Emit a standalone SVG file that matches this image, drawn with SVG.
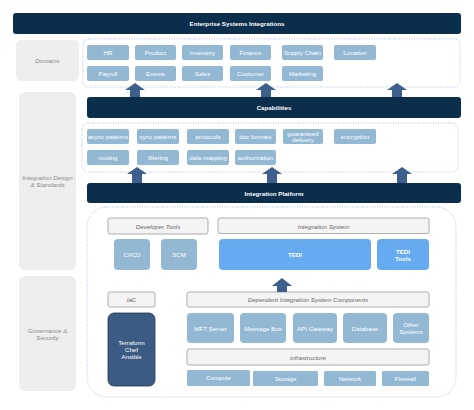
<svg xmlns="http://www.w3.org/2000/svg" width="474" height="410" viewBox="0 0 474 410">
<style>
text{font-family:"Liberation Sans",Arial,sans-serif;font-size:6.2px;text-anchor:middle;dominant-baseline:central}
.bar{fill:#0a2e4b}
.bart{fill:#fff;font-weight:bold}
.lab{fill:#eeeeee}
.labt{fill:#8a8a8a;font-style:italic}
.cont{fill:#fff;stroke:#9aaedb;stroke-width:0.8;stroke-dasharray:1 1.5}
.box{fill:#93b8d4}
.boxt{fill:#fff}
.sub{fill:#f4f4f4;stroke:#9a9a9a;stroke-width:0.8}
.subt{fill:#666;font-style:italic}
.tedi{fill:#66aaf0}
.arr{fill:#3d5f8c}
</style>
<rect width="474" height="410" fill="#fff"/>

<g id="title"><rect class="bar" x="13" y="13" width="448" height="21" rx="3"/><text class="bart" x="237" y="23.5">Enterprise Systems Integrations</text></g>

<g id="domains-label"><rect class="lab" x="16" y="40" width="63" height="41" rx="5"/><text class="labt" x="47.5" y="60.5">Domains</text></g>
<g id="domains"><rect class="cont" x="83" y="39" width="377" height="48" rx="6"/></g>
<g id="d-hr"><rect class="box" x="87" y="45" width="42" height="15" rx="2"/><text class="boxt" x="108" y="52.5">HR</text></g>
<g id="d-product"><rect class="box" x="135" y="45" width="41" height="15" rx="2"/><text class="boxt" x="155.5" y="52.5">Product</text></g>
<g id="d-inventory"><rect class="box" x="182" y="45" width="41" height="15" rx="2"/><text class="boxt" x="202.5" y="52.5">Inventory</text></g>
<g id="d-finance"><rect class="box" x="230" y="45" width="41" height="15" rx="2"/><text class="boxt" x="250.5" y="52.5">Finance</text></g>
<g id="d-supply"><rect class="box" x="282" y="45" width="41" height="15" rx="2"/><text class="boxt" x="302.5" y="52.5">Supply Chain</text></g>
<g id="d-location"><rect class="box" x="334" y="45" width="42" height="15" rx="2"/><text class="boxt" x="355" y="52.5">Location</text></g>
<g id="d-payroll"><rect class="box" x="87" y="66" width="42" height="15" rx="2"/><text class="boxt" x="108" y="73.5">Payroll</text></g>
<g id="d-events"><rect class="box" x="135" y="66" width="41" height="15" rx="2"/><text class="boxt" x="155.5" y="73.5">Events</text></g>
<g id="d-sales"><rect class="box" x="182" y="66" width="41" height="15" rx="2"/><text class="boxt" x="202.5" y="73.5">Sales</text></g>
<g id="d-customer"><rect class="box" x="230" y="66" width="41" height="15" rx="2"/><text class="boxt" x="250.5" y="73.5">Customer</text></g>
<g id="d-marketing"><rect class="box" x="282" y="66" width="41" height="15" rx="2"/><text class="boxt" x="302.5" y="73.5">Marketing</text></g>

<g id="capabilities"><rect class="bar" x="87" y="97" width="374" height="21" rx="3"/><text class="bart" x="274" y="107.5">Capabilities</text></g>

<g id="ids-label"><rect class="lab" x="19" y="92" width="57" height="178" rx="6"/><text class="labt" x="47.5" y="177">Integration Design</text><text class="labt" x="47.5" y="184">&amp; Standards</text></g>
<g id="cap-container"><rect class="cont" x="82" y="123" width="376" height="49" rx="6"/></g>
<g id="c-async"><rect class="box" x="87" y="129" width="42" height="15" rx="2"/><text class="boxt" x="108" y="136.5">async patterns</text></g>
<g id="c-sync"><rect class="box" x="137" y="129" width="42" height="15" rx="2"/><text class="boxt" x="158" y="136.5">sync patterns</text></g>
<g id="c-protocols"><rect class="box" x="187" y="129" width="42" height="15" rx="2"/><text class="boxt" x="208" y="136.5">protocols</text></g>
<g id="c-doc"><rect class="box" x="235" y="129" width="41" height="15" rx="2"/><text class="boxt" x="255.5" y="136.5">doc formats</text></g>
<g id="c-guar"><rect class="box" x="283" y="129" width="40" height="15" rx="2"/><text class="boxt" x="303" y="133.5">guaranteed</text><text class="boxt" x="303" y="139.8">delivery</text></g>
<g id="c-enc"><rect class="box" x="334" y="129" width="42" height="15" rx="2"/><text class="boxt" x="355" y="136.5">encryption</text></g>
<g id="c-routing"><rect class="box" x="87" y="150" width="42" height="15" rx="2"/><text class="boxt" x="108" y="157.5">routing</text></g>
<g id="c-filtering"><rect class="box" x="137" y="150" width="42" height="15" rx="2"/><text class="boxt" x="158" y="157.5">filtering</text></g>
<g id="c-mapping"><rect class="box" x="187" y="150" width="42" height="15" rx="2"/><text class="boxt" x="208" y="157.5">data mapping</text></g>
<g id="c-auth"><rect class="box" x="235" y="150" width="41" height="15" rx="2"/><text class="boxt" x="255.5" y="157.5">authorization</text></g>

<g id="platform"><rect class="bar" x="87" y="183" width="374" height="20" rx="3"/><text class="bart" x="274" y="193">Integration Platform</text></g>

<g id="gov-label"><rect class="lab" x="19" y="276" width="57" height="115" rx="6"/><text class="labt" x="47.5" y="330">Governance &amp;</text><text class="labt" x="47.5" y="337">Security</text></g>
<g id="platform-container"><rect class="cont" x="87" y="207" width="369" height="190" rx="20"/></g>

<g id="devtools"><rect class="sub" x="108" y="218" width="100" height="16" rx="2"/><text class="subt" x="158" y="226">Developer Tools</text></g>
<g id="intsys"><rect class="sub" x="218" y="218" width="211" height="15.5" rx="2"/><text class="subt" x="323.5" y="226">Integration System</text></g>
<g id="cicd"><rect class="box" x="114" y="239" width="36" height="31" rx="4"/><text class="boxt" x="132" y="254.5">CI/CD</text></g>
<g id="scm"><rect class="box" x="161" y="239" width="36" height="31" rx="4"/><text class="boxt" x="179" y="254.5">SCM</text></g>
<g id="tedi"><rect class="tedi" x="219" y="239" width="152" height="31" rx="4"/><text class="boxt" x="295" y="254.5" font-weight="bold">TEDI</text></g>
<g id="tedi-tools"><rect class="tedi" x="377" y="239" width="52" height="31" rx="4"/><text class="boxt" x="403" y="251" font-weight="bold">TEDI</text><text class="boxt" x="403" y="258" font-weight="bold">Tools</text></g>

<g id="iac"><rect class="sub" x="108" y="292" width="47" height="15" rx="2"/><text class="subt" x="131.5" y="299.5">IaC</text></g>
<g id="terraform"><rect x="108" y="313" width="47" height="73" rx="6" fill="#3c5b82" stroke="#1e3650" stroke-width="0.8"/><text class="boxt" x="131.5" y="342">Terraform</text><text class="boxt" x="131.5" y="349">Chef</text><text class="boxt" x="131.5" y="356">Ansible</text></g>
<g id="dep"><rect class="sub" x="187" y="292" width="242" height="15" rx="2"/><text class="subt" x="308" y="299.5">Dependent Integration System Components</text></g>
<g id="mft"><rect class="box" x="187" y="313" width="47" height="30" rx="4"/><text class="boxt" x="210.5" y="328">MFT Server</text></g>
<g id="bus"><rect class="box" x="240" y="313" width="46" height="30" rx="4"/><text class="boxt" x="263" y="328">Message Bus</text></g>
<g id="api"><rect class="box" x="293" y="313" width="44" height="30" rx="4"/><text class="boxt" x="315" y="328">API Gateway</text></g>
<g id="db"><rect class="box" x="343" y="313" width="44" height="30" rx="4"/><text class="boxt" x="365" y="328">Database</text></g>
<g id="other"><rect class="box" x="393" y="313" width="36" height="30" rx="4"/><text class="boxt" x="411" y="324.5" font-style="italic">Other</text><text class="boxt" x="411" y="331.5" font-style="italic">Systems</text></g>
<g id="infra"><rect class="sub" x="187" y="349" width="242" height="16" rx="2"/><text class="subt" x="308" y="357">infrastructure</text></g>
<g id="compute"><rect class="box" x="187" y="370" width="63" height="16" rx="1.5"/><text class="boxt" x="218.5" y="377.5">Compute</text></g>
<g id="storage"><rect class="box" x="253" y="371" width="65" height="15" rx="1.5"/><text class="boxt" x="285.5" y="378.5">Storage</text></g>
<g id="network"><rect class="box" x="324" y="371" width="52" height="15" rx="1.5"/><text class="boxt" x="350" y="378.5">Network</text></g>
<g id="firewall"><rect class="box" x="382" y="371" width="47" height="15" rx="1.5"/><text class="boxt" x="405.5" y="378.5">Firewall</text></g>

<g id="connectors" class="arr">
<path d="M135 83 L145 90 L140 90 L140 97 L130 97 L130 90 L125 90 Z"/>
<path d="M266 83 L276 90 L271 90 L271 97 L261 97 L261 90 L256 90 Z"/>
<path d="M397 83 L407 90 L402 90 L402 97 L392 97 L392 90 L387 90 Z"/>
<path d="M137 167 L147 174 L142 174 L142 183 L132 183 L132 174 L127 174 Z"/>
<path d="M272 167 L282 174 L277 174 L277 183 L267 183 L267 174 L262 174 Z"/>
<path d="M402 167 L412 174 L407 174 L407 183 L397 183 L397 174 L392 174 Z"/>
<path d="M282 278 L292 286 L287 286 L287 292 L277 292 L277 286 L272 286 Z"/>
</g>
</svg>
